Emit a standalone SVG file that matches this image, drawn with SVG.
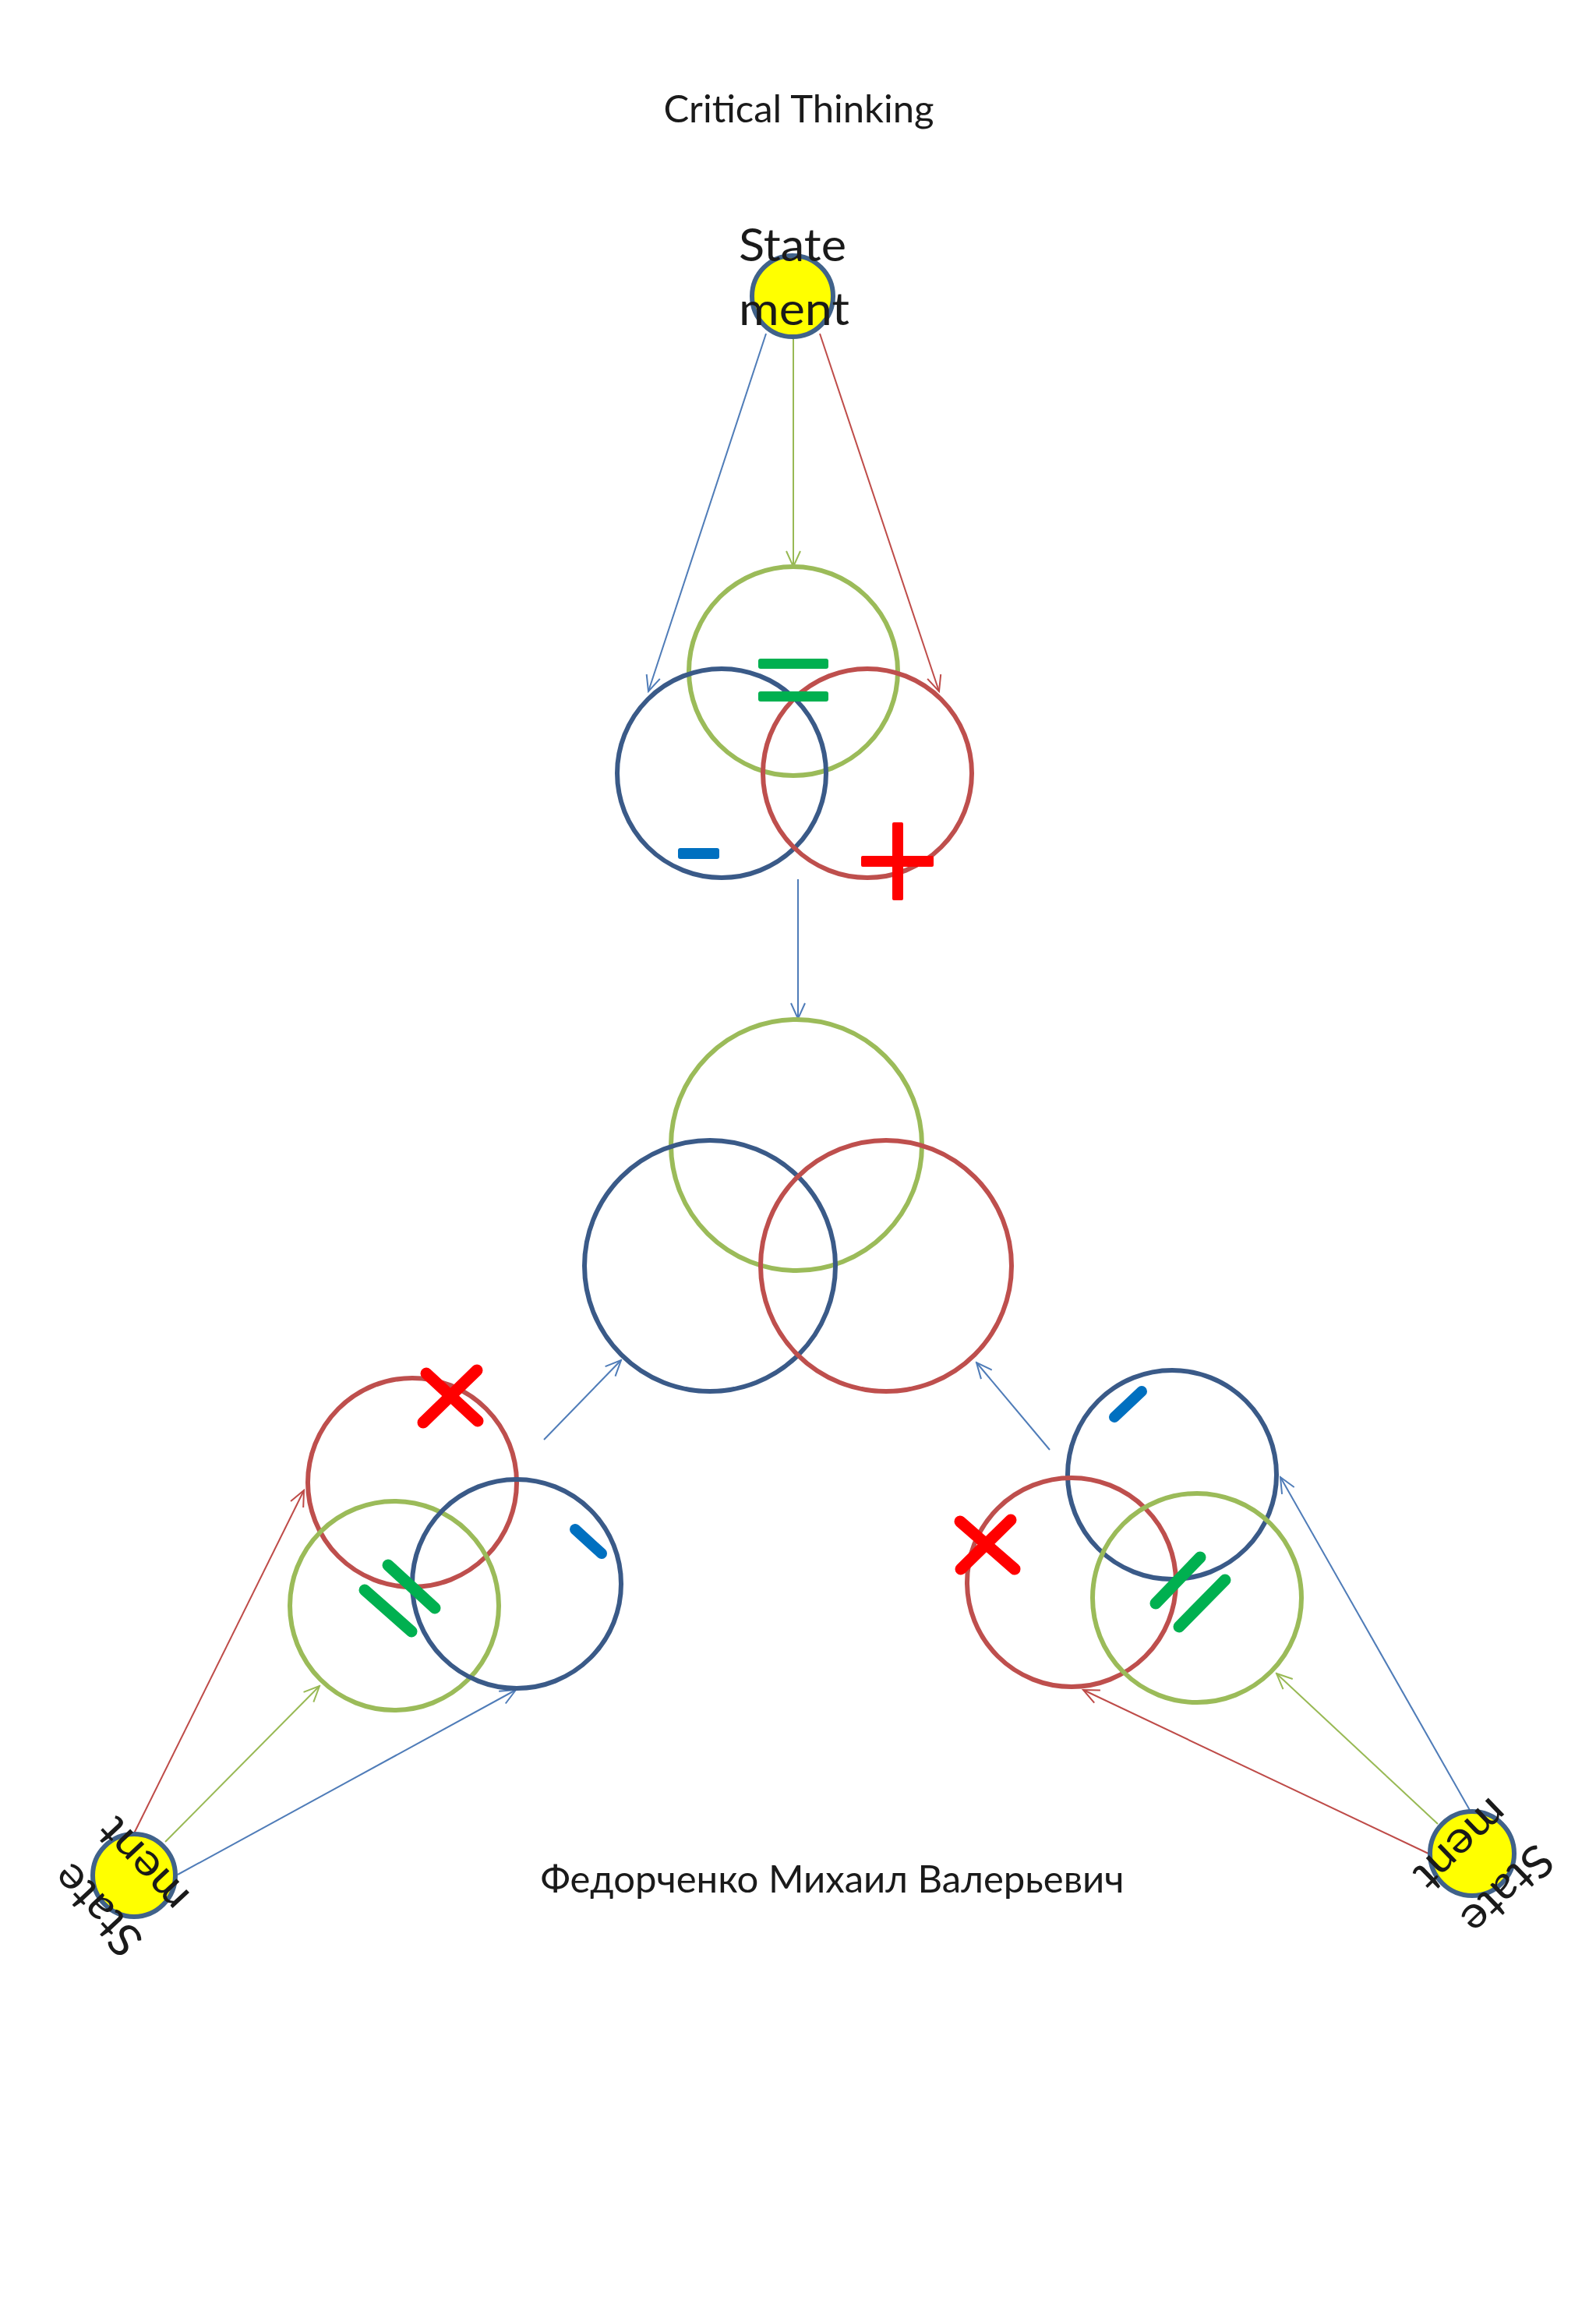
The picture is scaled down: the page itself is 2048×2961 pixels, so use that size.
<svg xmlns="http://www.w3.org/2000/svg" width="2048" height="2961" viewBox="0 0 2048 2961">
<style>
.txt{font-family:Lato,"Noto Sans","Liberation Sans",sans-serif;fill:#1a1a1a}
.node{fill:#FFFF00;stroke:#40628A;stroke-width:6}
.cb{fill:none;stroke:#3A5A88;stroke-width:6}
.cr{fill:none;stroke:#BE4F4D;stroke-width:6}
.cg{fill:none;stroke:#9BBB59;stroke-width:6}
.lb{stroke:#4F7CB8;stroke-width:2;fill:none}
.lg{stroke:#98B954;stroke-width:2;fill:none}
.lr{stroke:#BE4B48;stroke-width:2;fill:none}
.sg{stroke:#00B050;stroke-width:15;stroke-linecap:round}
.sb{stroke:#0070C0;stroke-width:14;stroke-linecap:round}
.sr{stroke:#FF0000;stroke-width:15;stroke-linecap:round}
</style>
<defs>
<marker id="ab" markerUnits="userSpaceOnUse" markerWidth="24" markerHeight="22" viewBox="0 0 24 22" refX="22" refY="11" orient="auto"><path d="M2,2 L22,11 L2,20" fill="none" stroke="#4F7CB8" stroke-width="2"/></marker>
<marker id="ag" markerUnits="userSpaceOnUse" markerWidth="24" markerHeight="22" viewBox="0 0 24 22" refX="22" refY="11" orient="auto"><path d="M2,2 L22,11 L2,20" fill="none" stroke="#98B954" stroke-width="2"/></marker>
<marker id="ar" markerUnits="userSpaceOnUse" markerWidth="24" markerHeight="22" viewBox="0 0 24 22" refX="22" refY="11" orient="auto"><path d="M2,2 L22,11 L2,20" fill="none" stroke="#BE4B48" stroke-width="2"/></marker>
</defs>
<rect width="2048" height="2961" fill="#FFFFFF"/>
<text class="txt" x="1025" y="157" font-size="48" text-anchor="middle" textLength="347" lengthAdjust="spacingAndGlyphs">Critical Thinking</text>

<g id="connectors">
<line class="lb" x1="983" y1="428" x2="832" y2="887" marker-end="url(#ab)"/>
<line class="lg" x1="1018" y1="432" x2="1018" y2="727" marker-end="url(#ag)"/>
<line class="lr" x1="1052" y1="428" x2="1205" y2="887" marker-end="url(#ar)"/>
<line class="lb" x1="1024" y1="1128" x2="1024" y2="1307" marker-end="url(#ab)"/>
<line class="lb" x1="698" y1="1847" x2="797" y2="1745" marker-end="url(#ab)"/>
<line class="lb" x1="1347" y1="1860" x2="1253" y2="1748" marker-end="url(#ab)"/>
<line class="lr" x1="172" y1="2352" x2="390" y2="1912" marker-end="url(#ar)"/>
<line class="lg" x1="212" y1="2363" x2="410" y2="2163" marker-end="url(#ag)"/>
<line class="lb" x1="228" y1="2405" x2="662" y2="2168" marker-end="url(#ab)"/>
<line class="lb" x1="1887" y1="2324" x2="1643" y2="1895" marker-end="url(#ab)"/>
<line class="lg" x1="1845" y1="2340" x2="1638" y2="2147" marker-end="url(#ag)"/>
<line class="lr" x1="1833" y1="2378" x2="1390" y2="2168" marker-end="url(#ar)"/>
</g>

<g id="statement-top">
<circle class="node" cx="1017" cy="380" r="52"/>
<text class="txt" x="1017" y="335" font-size="58" text-anchor="middle" textLength="138" lengthAdjust="spacingAndGlyphs">State</text>
<text class="txt" x="1019" y="417" font-size="58" text-anchor="middle" textLength="142" lengthAdjust="spacingAndGlyphs">ment</text>
</g>

<g id="venn-top">
<circle class="cg" cx="1018" cy="861" r="134"/>
<circle class="cb" cx="926" cy="992" r="134"/>
<circle class="cr" cx="1113" cy="992" r="134"/>
<rect x="973" y="845" width="90" height="13" rx="3" fill="#00B050"/>
<rect x="973" y="887" width="90" height="13" rx="3" fill="#00B050"/>
<rect x="870" y="1088" width="53" height="14" rx="3" fill="#0070C0"/>
<rect x="1105" y="1098" width="93" height="14" rx="2" fill="#FF0000"/>
<rect x="1145" y="1055" width="14" height="100" rx="2" fill="#FF0000"/>
</g>

<g id="venn-center">
<circle class="cg" cx="1022" cy="1469" r="161"/>
<circle class="cb" cx="911" cy="1624" r="161"/>
<circle class="cr" cx="1137" cy="1624" r="161"/>
</g>

<g id="venn-left">
<circle class="cr" cx="529" cy="1902" r="134"/>
<circle class="cg" cx="506" cy="2060" r="134"/>
<circle class="cb" cx="663" cy="2032" r="134"/>
<line class="sr" x1="547" y1="1762" x2="613" y2="1823"/>
<line class="sr" x1="612" y1="1758" x2="543" y2="1825"/>
<line class="sg" x1="498" y1="2008" x2="558" y2="2063"/>
<line class="sg" x1="468" y1="2040" x2="528" y2="2093"/>
<line class="sb" x1="738" y1="1962" x2="772" y2="1993"/>
</g>

<g id="venn-right">
<circle class="cb" cx="1504" cy="1892" r="134"/>
<circle class="cr" cx="1375" cy="2030" r="134"/>
<circle class="cg" cx="1536" cy="2050" r="134"/>
<line class="sb" x1="1430" y1="1818" x2="1465" y2="1785"/>
<line class="sr" x1="1232" y1="1952" x2="1302" y2="2013"/>
<line class="sr" x1="1297" y1="1950" x2="1233" y2="2013"/>
<line class="sg" x1="1483" y1="2057" x2="1540" y2="1998"/>
<line class="sg" x1="1513" y1="2087" x2="1572" y2="2027"/>
</g>

<g id="statement-left">
<circle class="node" cx="172" cy="2406" r="53"/>
<g transform="translate(172,2406) rotate(227)">
<text class="txt" x="0" y="-45" font-size="58" text-anchor="middle" textLength="138" lengthAdjust="spacingAndGlyphs">State</text>
<text class="txt" x="2" y="37" font-size="58" text-anchor="middle" textLength="142" lengthAdjust="spacingAndGlyphs">ment</text>
</g>
</g>

<g id="statement-right">
<circle class="node" cx="1889" cy="2378" r="54"/>
<g transform="translate(1889,2378) rotate(136)">
<text class="txt" x="0" y="-45" font-size="58" text-anchor="middle" textLength="138" lengthAdjust="spacingAndGlyphs">State</text>
<text class="txt" x="2" y="37" font-size="58" text-anchor="middle" textLength="142" lengthAdjust="spacingAndGlyphs">ment</text>
</g>
</g>

<text class="txt" x="1068" y="2428" font-size="48" text-anchor="middle" textLength="749" lengthAdjust="spacingAndGlyphs">Федорченко Михаил Валерьевич</text>
</svg>
